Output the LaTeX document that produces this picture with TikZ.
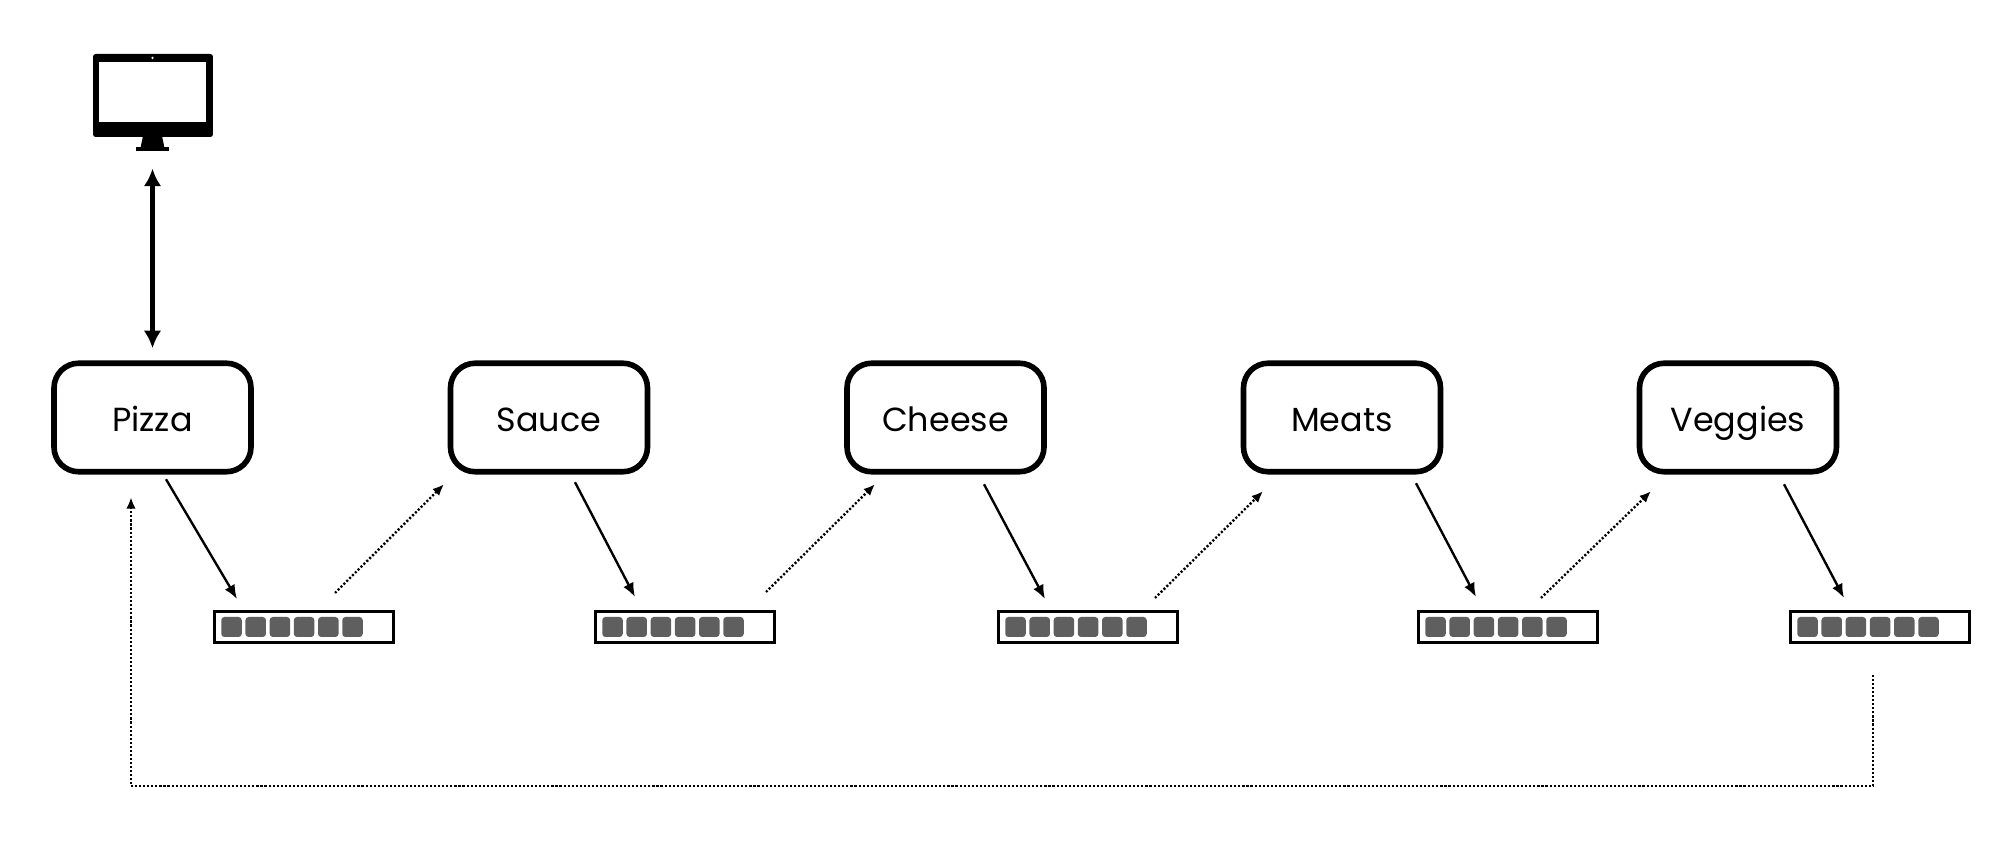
\documentclass[tikz,border=0pt]{standalone}
\usepackage{fontspec}
\setmainfont{Poppins}
\usetikzlibrary{arrows.meta}
\definecolor{cellgray}{HTML}{5F5F5F}

\begin{document}
\begin{tikzpicture}
      [%%%%%%%%%%%%%%%%%%%%%%%%%%%%%%
      x=0.02cm,y=-0.02cm,
      stage/.style={rectangle,draw=black,line width=3.2pt,rounded corners=14pt,minimum width=3.94cm,minimum height=2.17cm,inner sep=0pt,outer sep=0pt,text height=20pt,text depth=3.6pt,font=\fontsize{19}{24}\selectfont},
      queue/.style={rectangle,draw=black,line width=2pt,minimum width=3.58cm,minimum height=0.62cm,inner sep=0pt,outer sep=0pt},
      cell/.style={rectangle,fill=cellgray,rounded corners=1.8pt,minimum width=0.41cm,minimum height=0.4cm,inner sep=0pt,outer sep=0pt},
      feed/.style={line width=1.35pt,-{Latex[length=8pt,width=6.5pt]}},
      pass/.style={line width=1.35pt,dash pattern=on 1.2pt off 1.1pt,-{Latex[length=6.5pt,width=5.5pt]}},
      sync/.style={line width=2.4pt,{Latex[length=10pt,width=10pt]}-{Latex[length=10pt,width=10pt]}},
      ]%%%%%%%%%%%%%%%%%%%%%%%%%%%%%%
      \useasboundingbox (0,0) rectangle (1999,857);

      % monitor
      \node[rectangle,fill=black,rounded corners=1.5pt,minimum width=2.4cm,minimum height=1.66cm,inner sep=0pt] (monitor) at (153,95.5){};
      \node[rectangle,fill=white,minimum width=2.14cm,minimum height=1.2cm,inner sep=0pt] (display) at (152.5,92){};
      \node[circle,fill=white,minimum size=0.05cm,inner sep=0pt] (camera) at (152.5,58){};
      \fill (143,136) -- (162,136) -- (164.5,148) -- (140.5,148) -- cycle;
      \node[rectangle,fill=black,minimum width=0.68cm,minimum height=0.09cm,inner sep=0pt] (stand) at (152.5,149){};

      % stages
      \node[stage] (pizza) at (152.5,417.5){Pizza};
      \node[stage] (sauce) at (549,417.5){Sauce};
      \node[stage] (cheese) at (945.5,417.5){Cheese};
      \node[stage] (meats) at (1342,417.5){Meats};
      \node[stage] (veggies) at (1738,417.5){Veggies};

      % queues
      \foreach \q/\qx in {qa/304,qb/685,qc/1088,qd/1508,qe/1880}{
        \node[queue] (\q) at (\qx,627){};
        \foreach \i in {0,...,5}
          \node[cell] (\q\i) at (\qx-72.5+24.2*\i,627){};
      }

      \draw[sync] ([shift={(0,17)}]stand.south) -- ([shift={(0,-15)}]pizza.north);

      % solid arrows
      \draw[feed] ([shift={(13.5,7.5)}]pizza.south) -- ([shift={(-67,-12.5)}]qa.north);
      \draw[feed] ([shift={(26,10.5)}]sauce.south) -- ([shift={(-50,-14.5)}]qb.north);
      \draw[feed] ([shift={(38.5,12.5)}]cheese.south) -- ([shift={(-43,-12.5)}]qc.north);
      \draw[feed] ([shift={(74,11.5)}]meats.south) -- ([shift={(-32,-14.5)}]qd.north);
      \draw[feed] ([shift={(46,12.5)}]veggies.south) -- ([shift={(-36,-13.5)}]qe.north);

      % dotted arrows
      \draw[pass] ([shift={(31,-18.5)}]qa.north) -- ([shift={(-105,12.5)}]sauce.south);
      \draw[pass] ([shift={(81,-19.5)}]qb.north) -- ([shift={(-70.5,12.5)}]cheese.south);
      \draw[pass] ([shift={(67,-13.5)}]qc.north) -- ([shift={(-79,19.5)}]meats.south);
      \draw[pass] ([shift={(33,-13.5)}]qd.north) -- ([shift={(-87,19.5)}]veggies.south);

      % way back
      \coordinate (backstart) at (1873,675);
      \draw[pass] (backstart) -- (1873,786) -- (131,786) -- ([shift={(-21.5,25.5)}]pizza.south);
    \end{tikzpicture}
\end{document}
